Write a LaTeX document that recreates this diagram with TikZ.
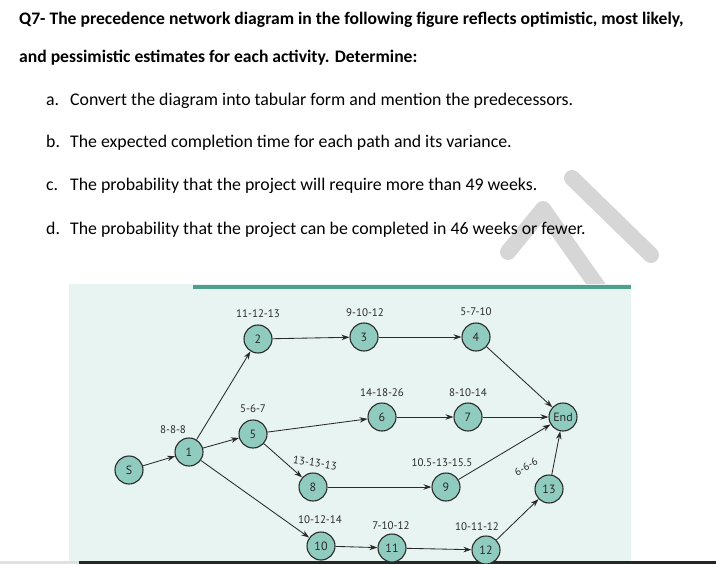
\documentclass[tikz,border=0pt]{standalone}
\usepackage{fontspec}
\setmainfont{Carlito}
\newfontfamily\labfont{PT Sans}
\usetikzlibrary{arrows.meta}
\definecolor{panelbg}{HTML}{E7F4F1}
\definecolor{tealline}{HTML}{4E9F8C}
\definecolor{nodefill}{HTML}{8FCBBE}
\definecolor{edgecol}{HTML}{2A2A2A}
\definecolor{wmark}{HTML}{D6D6D6}
\definecolor{labcol}{HTML}{2A2A2A}
\begin{document}
\begin{tikzpicture}[x=1bp,y=-1bp,
  qtext/.style={anchor=base west,inner sep=0,font=\fontsize{17.8bp}{20bp}\selectfont},
  act/.style={circle,draw=edgecol,line width=1.1bp,fill=nodefill,minimum size=28bp,inner sep=0,
     font=\labfont\fontsize{12bp}{13bp}\selectfont,text=labcol},
  est/.style={inner sep=0,font=\labfont\fontsize{11bp}{12bp}\selectfont,text=labcol},
  arr/.style={draw=edgecol,line width=0.85bp,-{Stealth[length=8bp,width=5.5bp]}}]
\useasboundingbox (0,0) rectangle (716,564);
\fill[white] (0,0) rectangle (716,564);
% watermark
\draw[wmark,line width=16bp,line cap=round,line join=round] (508,252) -- (543,209) -- (600,290);
\draw[wmark,line width=16bp,line cap=round] (572,178) -- (651,255);
\draw[wmark,line width=16bp] (455,292) arc[start angle=120,end angle=75,radius=70];
% question text
\node[qtext,font=\bfseries\fontsize{17.6bp}{20bp}\selectfont] (q1) at (19,25) {Q7- The precedence network diagram in the following figure reflects optimistic, most likely,};
\node[qtext,font=\bfseries\fontsize{17.6bp}{20bp}\selectfont] (q2) at (19,63) {and pessimistic estimates for each activity. Determine:};
\node[qtext] (la) at (46,106) {a.};
\node[qtext] (ta) at (70,106) {Convert the diagram into tabular form and mention the predecessors.};
\node[qtext] (lb) at (46,148) {b.};
\node[qtext] (tb) at (70,148) {The expected completion time for each path and its variance.};
\node[qtext] (lc) at (46,191) {c.};
\node[qtext] (tc) at (70,191) {The probability that the project will require more than 49 weeks.};
\node[qtext] (ld) at (46,234) {d.};
\node[qtext] (td) at (70,234) {The probability that the project can be completed in 46 weeks or fewer.};
% panel
\fill[panelbg] (69,284) rectangle (631,561);
\fill[tealline] (193,285) rectangle (631,289);
% bottom bars
\fill[black!85] (79,561) rectangle (716,564);
\fill[black!12] (0,561) rectangle (79,564);
% nodes
\node[act] (S) at (129,470) {S};
\node[act] (n1) at (189,452) {1};
\node[act] (n2) at (258,339) {2};
\node[act] (n3) at (364,337) {3};
\node[act] (n4) at (476,337) {4};
\node[act] (n5) at (253,434) {5};
\node[act] (n6) at (382,417) {6};
\node[act] (n7) at (468,417) {7};
\node[act] (nE) at (563,417) {End};
\node[act] (n8) at (313,487) {8};
\node[act] (n9) at (446,487) {9};
\node[act] (n10) at (321,546) {10};
\node[act] (n11) at (392,548) {11};
\node[act] (n12) at (486,550) {12};
\node[act] (n13) at (549,489) {13};
% estimates
\node[est] (e1) at (173,430) {8-8-8};
\node[est] (e2) at (258,314) {11-12-13};
\node[est] (e3) at (365,313) {9-10-12};
\node[est] (e4) at (476,312) {5-7-10};
\node[est] (e5) at (253,409) {5-6-7};
\node[est] (e6) at (382,393) {14-18-26};
\node[est] (e7) at (468,393) {8-10-14};
\node[est,rotate=-8] (e8) at (315,463) {13-13-13};
\node[est] (e9) at (442,463) {10.5-13-15.5};
\node[est] (e10) at (320,520) {10-12-14};
\node[est] (e11) at (391,526) {7-10-12};
\node[est] (e12) at (477,527) {10-11-12};
\node[est,rotate=30,font=\labfont\fontsize{10.5bp}{12bp}\selectfont] (e13) at (526,467) {6-6-6};
% connectors
\draw[arr] (S) -- (n1);
\draw[arr] (n1) -- (n2);
\draw[arr] (n1) -- (n5);
\draw[arr] (n1) -- (n10);
\draw[arr] (n2) -- (n3);
\draw[arr] (n3) -- (n4);
\draw[arr] (n4) -- (nE);
\draw[arr] (n5) -- (n6);
\draw[arr] (n5) -- (n8);
\draw[arr] (n6) -- (n7);
\draw[arr] (n7) -- (nE);
\draw[arr] (n8) -- (n9);
\draw[arr] (n9) -- (nE);
\draw[arr] (n10) -- (n11);
\draw[arr] (n11) -- (n12);
\draw[arr] (n12) -- (n13);
\draw[arr] (n13) -- (nE);
\end{tikzpicture}
\end{document}
